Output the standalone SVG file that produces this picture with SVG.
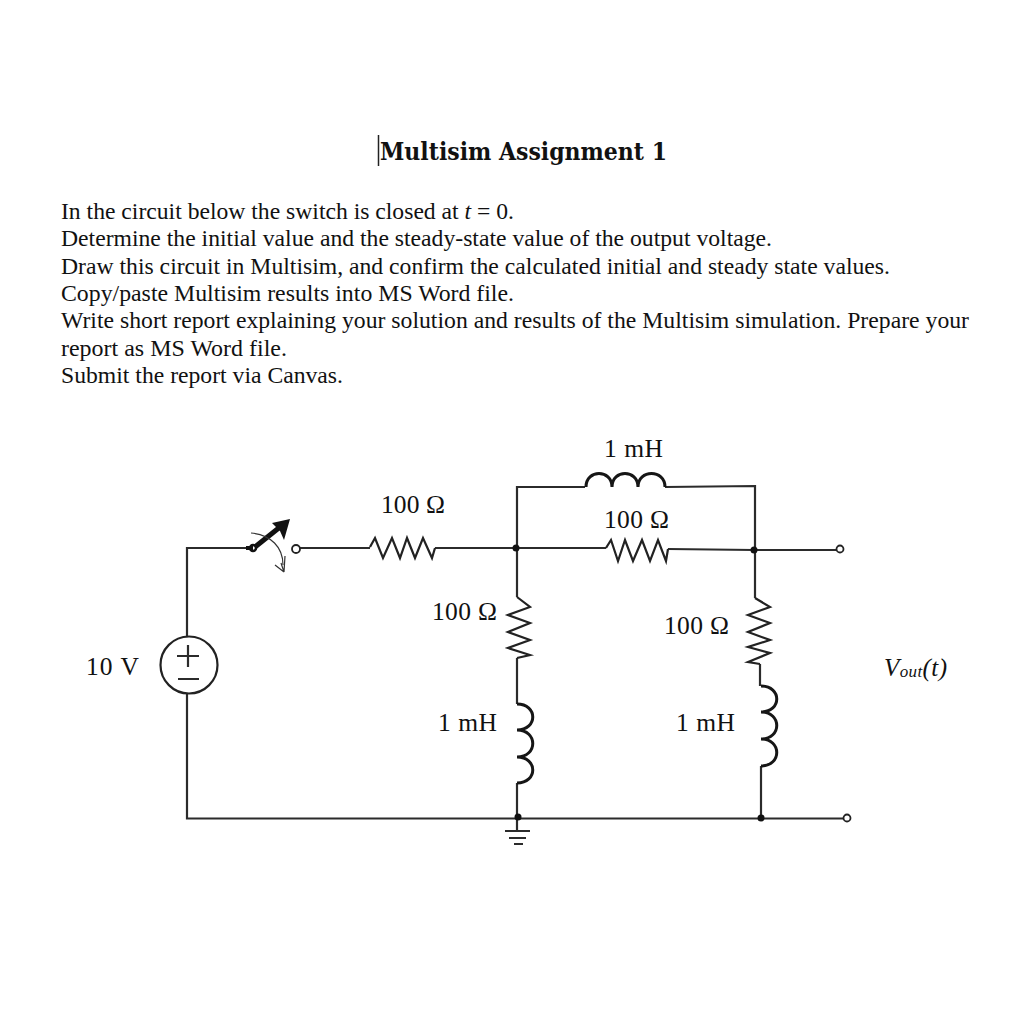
<svg xmlns="http://www.w3.org/2000/svg" width="1024" height="1011" viewBox="0 0 1024 1011">
<style>
text{font-family:"Liberation Serif","Times New Roman",serif;fill:#111}
.b{font-size:23.200px}
.l{font-size:25.500px}
.t{font-family:"DejaVu Serif","Liberation Serif",serif;font-weight:bold;font-size:24px}
.w{fill:none;stroke:#2b2b2b;stroke-width:2.200;stroke-linejoin:miter}
.r{fill:none;stroke:#222;stroke-width:2.200}
.i{fill:none;stroke:#161616;stroke-width:3}
.d{fill:#111}
.o{fill:#fff;stroke:#222;stroke-width:1.800}
</style>
<rect width="1024" height="1011" fill="#fff"/>
<g id="heading">
<line x1="378.500" y1="135" x2="378.500" y2="166" stroke="#222" stroke-width="1.500"/>
<text class="t" x="380" y="160" textLength="287" lengthAdjust="spacingAndGlyphs">Multisim Assignment 1</text>
</g>
<g id="instructions">
<text class="b" x="61" y="219" textLength="453" lengthAdjust="spacingAndGlyphs">In the circuit below the switch is closed at <tspan font-style="italic">t</tspan> = 0.</text>
<text class="b" x="61" y="246" textLength="711" lengthAdjust="spacingAndGlyphs">Determine the initial value and the steady-state value of the output voltage.</text>
<text class="b" x="61" y="274" textLength="829" lengthAdjust="spacingAndGlyphs">Draw this circuit in Multisim, and confirm the calculated initial and steady state values.</text>
<text class="b" x="61" y="301" textLength="453" lengthAdjust="spacingAndGlyphs">Copy/paste Multisim results into MS Word file.</text>
<text class="b" x="61" y="328" textLength="908" lengthAdjust="spacingAndGlyphs">Write short report explaining your solution and results of the Multisim simulation. Prepare your</text>
<text class="b" x="61" y="356" textLength="226" lengthAdjust="spacingAndGlyphs">report as MS Word file.</text>
<text class="b" x="61" y="383" textLength="282" lengthAdjust="spacingAndGlyphs">Submit the report via Canvas.</text>
</g>
<g id="connectors">
<path class="w" d="M187,637V548H250"/>
<path class="w" d="M187,694V818.500H843"/>
<path class="w" d="M300,548H370"/>
<path class="w" d="M435,548H606"/>
<path class="w" d="M517,548V487H585"/>
<path class="w" d="M665,487L755,486V598"/>
<path class="w" d="M668,549L754,550H836"/>
<path class="w" d="M517,548V597"/>
<path class="w" d="M517,658V704"/>
<path class="w" d="M517,783V831"/>
<path class="w" d="M760,664V686"/>
<path class="w" d="M761,766V818"/>
</g>
<g id="source-10v">
<circle cx="189" cy="665" r="28.500" fill="none" stroke="#222" stroke-width="2.200"/>
<path class="w" d="M177,656H199M188,645V667M178,679H199"/>
<text class="l" x="86" y="675" textLength="53">10 V</text>
</g>
<g id="switch">
<circle cx="253" cy="548" r="3" fill="#fff" stroke="#111" stroke-width="2.500"/>
<path d="M246,548H253" stroke="#111" stroke-width="4"/>
<path d="M255,547L280,527" stroke="#111" stroke-width="5"/>
<polygon class="d" points="272,523 290,519 284,540 280,531"/>
<path d="M251,533C271,535 283,547 283,565" fill="none" stroke="#333" stroke-width="1.200"/>
<path d="M281,563L284,572L285,556M284,572L275,565" fill="none" stroke="#333" stroke-width="1.200"/>
<circle class="o" cx="296" cy="549" r="4"/>
</g>
<g id="r1">
<path class="r" d="M370,547L375,538L383,558L392,538L400,558L407,538L415,558L423,538L432,558L435,548"/>
<text class="l" x="381" y="513" textLength="64">100 Ω</text>
</g>
<g id="r2">
<path class="r" d="M606,548L611,540L618,561L625,540L633,561L642,540L650,561L658,540L666,561L668,549"/>
<text class="l" x="604" y="528" textLength="65">100 Ω</text>
</g>
<g id="l-top">
<path class="i" d="M586,487C586,469 612,469 612,487C612,469 638,469 638,487C638,469 665,469 665,487"/>
<text class="l" x="604" y="457" textLength="59">1 mH</text>
</g>
<g id="r3">
<path class="r" d="M517,597L530,607L508,615L530,623L508,632L530,640L508,648L530,655L517,658"/>
<text class="l" x="432" y="620" textLength="65">100 Ω</text>
</g>
<g id="l3">
<path class="i" d="M517,704C538,704 538,730 517,730C538,730 538,757 517,757C538,757 538,783 517,783"/>
<text class="l" x="438" y="731" textLength="59">1 mH</text>
</g>
<g id="r4">
<path class="r" d="M755,598L770,607L748,615L770,623L748,632L770,640L748,647L770,653L748,662L760,664"/>
<text class="l" x="664" y="634" textLength="65">100 Ω</text>
</g>
<g id="l4">
<path class="i" d="M761,686C782,686 782,712 761,712C782,712 782,739 761,739C782,739 782,766 761,766"/>
<text class="l" x="676" y="731" textLength="59">1 mH</text>
</g>
<g id="ground">
<path class="w" d="M505,831H530M509,838H526M514,844H523"/>
</g>
<g id="junctions">
<circle class="d" cx="516" cy="548" r="3.500"/>
<circle class="d" cx="754" cy="550" r="3.500"/>
<circle class="d" cx="518" cy="817" r="3.500"/>
<circle class="d" cx="761" cy="818" r="3.500"/>
</g>
<g id="output">
<circle class="o" cx="840" cy="549" r="3.500"/>
<circle class="o" cx="847" cy="818" r="3.500"/>
<text x="884" y="676" font-size="25" font-style="italic" textLength="63">V<tspan font-size="17" dy="1">out</tspan><tspan dy="-1">(t)</tspan></text>
</g>
</svg>
